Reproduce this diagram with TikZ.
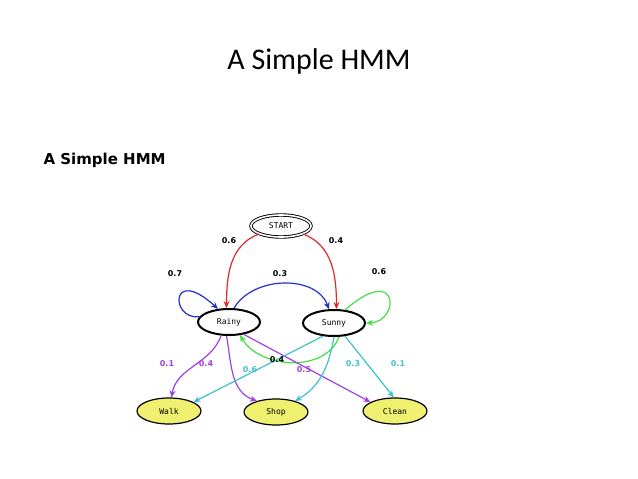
\documentclass[tikz,border=0pt]{standalone}
\usepackage{fontspec}
\setmainfont{Carlito}
\newfontfamily\dvs{DejaVu Sans}
\newfontfamily\dvm{DejaVu Sans Mono}
\usetikzlibrary{arrows.meta,shapes.geometric}
\definecolor{cred}{HTML}{E02828}
\definecolor{cblue}{HTML}{2030D0}
\definecolor{cgreen}{HTML}{40E040}
\definecolor{cpurple}{HTML}{A040E0}
\definecolor{ccyan}{HTML}{40C0CC}
\definecolor{cyel}{HTML}{F0F070}
\begin{document}
\begin{tikzpicture}[x=1pt,y=-1pt,
 st/.style={draw,ellipse,line width=2pt,minimum width=62pt,minimum height=26pt,inner sep=0pt,font=\dvm\fontsize{8}{9}\selectfont},
 ob/.style={draw,ellipse,line width=1.2pt,fill=cyel,minimum width=64pt,minimum height=26pt,inner sep=0pt,font=\dvm\fontsize{8}{9}\selectfont},
 ed/.style={line width=1.2pt,-{Stealth[length=7pt,width=6pt]}},
 lb/.style={font=\dvs\bfseries\fontsize{8}{9}\selectfont}]
\useasboundingbox (0,0) rectangle (638,479);
\node (title) at (319,62) {\fontsize{30}{34}\selectfont A Simple HMM};
\node[anchor=west,font=\dvs\bfseries\fontsize{15}{17}\selectfont] (head) at (40,160) {A Simple HMM};
\node[draw,ellipse,line width=0.9pt,double,double distance=1.6pt,minimum width=60pt,minimum height=22pt,inner sep=0pt,font=\dvm\fontsize{8}{9}\selectfont] (start) at (281,226) {START};
\node[st] (rainy) at (229,322) {Rainy};
\node[st] (sunny) at (334,323) {Sunny};
\node[ob] (walk) at (169,411) {Walk};
\node[ob] (shop) at (276,412) {Shop};
\node[ob] (clean) at (395,411) {Clean};
\draw[ed,cred] (start.200) to[out=200,in=90] (rainy.100);
\draw[ed,cred] (start.-20) to[out=-20,in=90] (sunny.80);
\draw[ed,cblue] (rainy.70) to[out=60,in=110] (sunny.110);
\draw[ed,cblue] (rainy.170) .. controls (170,320) and (170,265) .. (rainy.130);
\draw[ed,cgreen] (sunny.50) .. controls (400,262) and (400,322) .. (sunny.0);
\draw[ed,cgreen] (sunny.-70) to[out=-110,in=-60] (rainy.-50);
\draw[ed,cpurple] (rainy.-120) to[out=-110,in=80] (walk.80);
\draw[ed,cpurple] (rainy.-100) to[out=-80,in=160] (shop.150);
\draw[ed,cpurple] (rainy.-40) -- (clean.160);
\draw[ed,ccyan] (sunny.-130) -- (walk.20);
\draw[ed,ccyan] (sunny.-90) to[out=-100,in=30] (shop.30);
\draw[ed,ccyan] (sunny.-50) -- (clean.95);
\node[lb] (l1) at (229,241) {0.6};
\node[lb] (l2) at (336,241) {0.4};
\node[lb] (l3) at (175,274) {0.7};
\node[lb] (l4) at (280,274) {0.3};
\node[lb] (l5) at (379,272) {0.6};
\node[lb] (l6) at (277,360) {0.4};
\node[lb,cpurple] (l7) at (167,364) {0.1};
\node[lb,cpurple] (l8) at (206,364) {0.4};
\node[lb,ccyan] (l9) at (250,370) {0.6};
\node[lb,cpurple] (l10) at (304,370) {0.5};
\node[lb,ccyan] (l11) at (353,364) {0.3};
\node[lb,ccyan] (l12) at (398,364) {0.1};
\end{tikzpicture}
\end{document}
